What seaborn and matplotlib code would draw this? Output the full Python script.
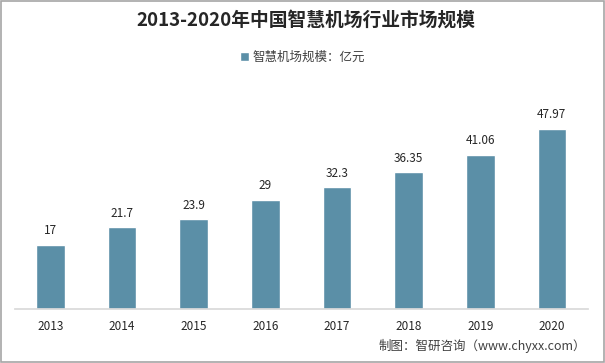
import matplotlib
matplotlib.use("Agg")
import matplotlib.pyplot as plt
import seaborn as sns
import pandas as pd
from matplotlib.patches import Rectangle

years = ["2013", "2014", "2015", "2016", "2017", "2018", "2019", "2020"]
values = [17, 21.7, 23.9, 29, 32.3, 36.35, 41.06, 47.97]
labels = ["17", "21.7", "23.9", "29", "32.3", "36.35", "41.06", "47.97"]
title = "2013-2020年中国智慧机场行业市场规模"
legend_label = "智慧机场规模：亿元"
source = "制图：智研咨询（www.chyxx.com）"

sns.set_theme(style="white")
plt.rcParams['font.family'] = ['Noto Sans CJK SC', 'DejaVu Sans']

df = pd.DataFrame({"year": years, "value": values})
color = "#5B8FA7"

fig = plt.figure(figsize=(6.05, 3.63), dpi=100)
ax = fig.add_axes([0.0243, 0.149, 0.947, 0.6215])
sns.barplot(data=df, x="year", y="value", color=color, width=0.4, ax=ax,
            saturation=1, label=legend_label)
ax.set_ylim(0, 60)
ax.set_xlim(-0.5, len(years) - 0.5)
for i, (v, t) in enumerate(zip(values, labels)):
    ax.text(i, v + 2.0, t, ha="center", va="bottom", fontsize=8.5, color="#262626")
for s in ["top", "right", "left"]:
    ax.spines[s].set_visible(False)
ax.spines["bottom"].set_color("#D9D9D9")
ax.set_yticks([])
ax.set_xlabel("")
ax.set_ylabel("")
ax.tick_params(axis="x", length=0, labelsize=8.5, colors="#262626", pad=8)

fig.text(0.505, 0.945, title, ha="center", va="center", fontsize=13.5,
         fontweight="bold", color="#262626")
leg = ax.legend(loc="center", bbox_to_anchor=(0.5, 0.842), bbox_transform=fig.transFigure,
                frameon=False, fontsize=9, handlelength=0.7, handleheight=0.7,
                handletextpad=0.3, labelcolor="#404040")
fig.text(0.968, 0.048, source, ha="right", va="center", fontsize=9, color="#404040")
fig.patches.append(Rectangle((0.0015, 0.0025), 0.997, 0.995, transform=fig.transFigure,
                             fill=False, edgecolor="#A6A6A6", linewidth=1.2))
fig.savefig("out.png", dpi=100)
